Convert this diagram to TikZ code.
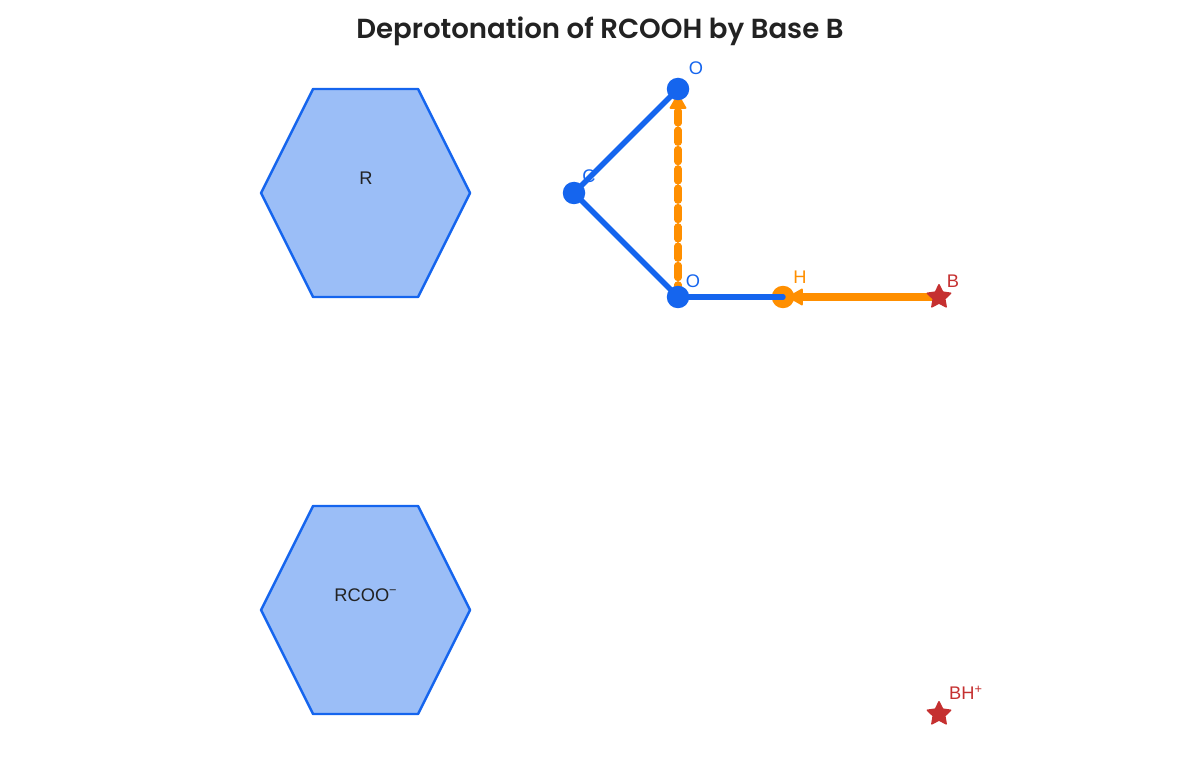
\documentclass[tikz,border=0pt]{standalone}
\usepackage{fontspec}
\setmainfont{Liberation Sans}
\newfontfamily\titlefont{Poppins SemiBold}
\usepackage{tikz}
\usetikzlibrary{arrows.meta,shapes.geometric,backgrounds}

\definecolor{bondblue}{HTML}{1565EE}
\definecolor{hexfill}{HTML}{9BBEF7}
\definecolor{protonorange}{HTML}{FF8F00}
\definecolor{basered}{HTML}{C53030}
\definecolor{inkdark}{HTML}{222222}

\tikzset{
    hexring/.style={draw=bondblue, fill=hexfill, line width=1.4pt, line join=round},
    atom/.style={circle, minimum size=0.45cm, inner sep=0pt, outer sep=0pt, fill=#1},
    basestar/.style={star, star points=5, star point ratio=2.0, minimum size=0.49cm, inner sep=0pt, outer sep=0pt, fill=basered, draw=basered, line width=0.8pt, line join=round},
    bond/.style={bondblue, line width=3.1pt, line cap=round},
    push/.style={protonorange, line width=4pt, shorten >=2.8pt, -{Triangle[length=9pt,width=10pt,round,line width=1pt]}},
    lab/.style={font=\fontsize{10.4}{12}\selectfont, inner sep=0pt, text=#1}
}

\begin{document}
\begin{tikzpicture}[x=0.02cm,y=-0.02cm]
    \useasboundingbox (0,0) rectangle (1200,763);

    % Title
    \node[font=\titlefont\fontsize{15.7}{18}\selectfont, text=inkdark] (title) at (600,31) {Deprotonation of RCOOH by Base B};

    % Hexagons for the R groups
    \foreach \y in {0,417} {
        \draw[hexring, yshift=-\y*0.02cm] (261,193) -- (313,89) -- (418,89) -- (470,193) -- (418,297) -- (313,297) -- cycle;
    }
    \node[lab=inkdark] (rlabel) at (366,178) {R};
    \node[lab=inkdark] (rcoolabel) at (366,595) {RCOO\textsuperscript{−}};

    % Atoms of the acid group and the base
    \node[atom=bondblue] (otop) at (678,89) {};
    \node[atom=bondblue] (carbon) at (574,193) {};
    \node[atom=bondblue] (obot) at (678,297) {};
    \node[basestar] (base) at (939,297) {};
    \node[basestar] (baseh) at (939,714) {};

    % Bonds and electron pushing arrows go under the atoms
    \begin{scope}[on background layer]
        \node[atom=protonorange] (proton) at (783,297) {};
        \draw[bond] (carbon.center) -- (otop.center);
        \draw[bond] (carbon.center) -- (obot.center);
        \draw[bond] (obot.center) -- (proton.center);
        \draw[push] (base.center) -- (proton.center);
        \draw[push, line cap=round, dash pattern=on 7pt off 4pt] (obot.center) -- (otop.center);
    \end{scope}

    % Atom labels
    \node[lab=bondblue] (otoplabel) at (696,68) {O};
    \node[lab=bondblue] (carbonlabel) at (589,176) {C};
    \node[lab=bondblue] (obotlabel) at (693,281) {O};
    \node[lab=protonorange] (protonlabel) at (800,277) {H};
    \node[lab=basered] (baselabel) at (953,281) {B};
    \node[lab=basered] (basehlabel) at (966,693) {BH\textsuperscript{+}};
\end{tikzpicture}
\end{document}
